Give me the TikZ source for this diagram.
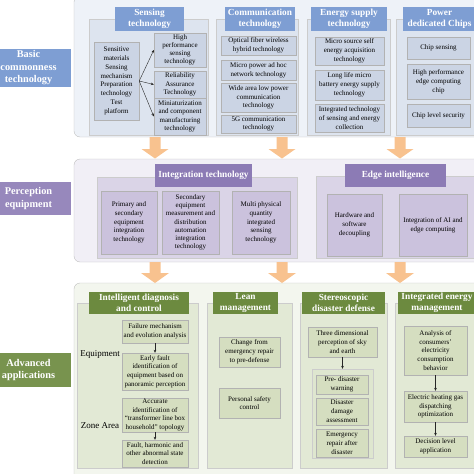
\documentclass[tikz,border=0pt]{standalone}
\usepackage{fontspec}
\setmainfont{Liberation Serif}
\usetikzlibrary{arrows.meta}

\definecolor{bandA}{HTML}{EEF2F8}
\definecolor{colA}{HTML}{DDE4EF}
\definecolor{headA}{HTML}{7E9ED3}
\definecolor{boxA}{HTML}{CBD4E4}
\definecolor{bandB}{HTML}{F1EFF6}
\definecolor{colB}{HTML}{DAD4E7}
\definecolor{headB}{HTML}{8C7BB5}
\definecolor{boxB}{HTML}{CBC2DD}
\definecolor{bandC}{HTML}{F3F6EE}
\definecolor{colC}{HTML}{E2E9D5}
\definecolor{headC}{HTML}{6C8A3F}
\definecolor{boxC}{HTML}{D5DEC0}
\definecolor{flowcol}{HTML}{F8C28F}

\begin{document}
\begin{tikzpicture}[x=1pt,y=-1pt,
  area/.style args={#1,#2,#3,#4}{minimum width={(#3-#1)*1pt},
    minimum height={(#4-#2)*1pt}, at={({(#1+#3)/2},{(#2+#4)/2})}},
  panel/.style={draw=gray!50, rounded corners=6pt, inner sep=0pt},
  col/.style={draw=gray!40, inner sep=0pt},
  head/.style={inner sep=0pt, text=white, align=center,
    font=\fontsize{9.3}{11}\selectfont\bfseries},
  side/.style={inner sep=0pt, text=white, align=center,
    font=\fontsize{10.3}{12.5}\selectfont\bfseries},
  box/.style={draw=gray!60, inner sep=0pt, align=center,
    font=\fontsize{7}{8.8}\selectfont},
  tight/.style={font=\fontsize{7}{8.2}\selectfont},
  tag/.style={inner sep=0pt, font=\fontsize{9}{10}\selectfont},
  link/.style={-{Stealth[length=3pt,width=2.6pt]}, black!85}]
\useasboundingbox (0,0) rectangle (474,474);

% basic commonness technology
\node[panel, fill=bandA, area={74,-4,482,137}] (bandA) {};
\node[side, fill=headA, area={-14,49,71,87}] (basic) {Basic\\commonness\\technology};

\node[col, fill=colA, area={89,19,208,135}] (sensing) {};
\node[head, fill=headA, area={115,7,184,31}] (sensingH) {Sensing\\technology};
\node[box, fill=boxA, area={94,42,139,120}] (sens0) {Sensitive\\materials\\Sensing\\mechanism\\Preparation\\technology\\Test\\platform};
\node[box, tight, fill=boxA, area={154,33,206,67}] (sens1) {High\\performance\\sensing\\technology};
\node[box, tight, fill=boxA, area={154,71,206,98}] (sens2) {Reliability\\Assurance\\Technology};
\node[box, tight, fill=boxA, area={154,98,206,135}] (sens3) {Miniaturization\\and component\\manufacturing\\technology};
\foreach \n in {sens1,sens2,sens3}
  \draw[link] (sens0.east) -- (\n.west);

\node[col, fill=colA, area={216,19,298,135}] (comm) {};
\node[head, fill=headA, area={225,7,295,31}] (commH) {Communication\\technology};
\node[box, fill=boxA, area={221,36,296,55}] (comm1) {Optical fiber wireless\\hybrid technology};
\node[box, fill=boxA, area={221,60,296,80}] (comm2) {Micro power ad hoc\\network technology};
\node[box, fill=boxA, area={221,83,296,112}] (comm3) {Wide area low power\\communication\\technology};
\node[box, fill=boxA, area={221,115,296,133}] (comm4) {5G communication\\technology};

\node[col, fill=colA, area={307,19,390,135}] (energy) {};
\node[head, fill=headA, area={311,7,387,31}] (energyH) {Energy supply\\technology};
\node[box, fill=boxA, area={315,37,384,65}] (energy1) {Micro source self\\energy acquisition\\technology};
\node[box, fill=boxA, area={315,70,384,100}] (energy2) {Long life micro\\battery energy supply\\technology};
\node[box, fill=boxA, area={315,104,384,132}] (energy3) {Integrated technology\\of sensing and energy\\collection};

\node[col, fill=colA, area={396,19,480,135}] (chips) {};
\node[head, fill=headA, area={403,7,476,31}] (chipsH) {Power\\dedicated Chips};
\node[box, fill=boxA, area={407,37,470,59}] (chips1) {Chip sensing};
\node[box, fill=boxA, area={407,64,470,99}] (chips2) {High performance\\edge computing\\chip};
\node[box, fill=boxA, area={407,104,470,127}] (chips3) {Chip level security};

% perception equipment
\node[panel, fill=bandB, area={74,159,482,262}] (bandB) {};
\node[side, fill=headB!90!white, area={-14,182,71,215}] (percep) {Perception\\equipment};

\node[col, fill=colB, area={97,177,297,258}] (integ) {};
\node[head, fill=headB, area={155,164,252,187}] (integH) {Integration technology};
\node[box, fill=boxB, area={101,191,157,254}] (integ1) {Primary and\\secondary\\equipment\\integration\\technology};
\node[box, tight, fill=boxB, area={162,191,219,254}] (integ2) {Secondary\\equipment\\measurement and\\distribution\\automation\\integration\\technology};
\node[box, fill=boxB, area={232,191,290,254}] (integ3) {Multi physical\\quantity\\integrated\\sensing\\technology};

\node[col, fill=colB, area={316,176,480,258}] (edge) {};
\node[head, fill=headB, area={345,164,446,187}] (edgeH) {Edge intelligence};
\node[box, fill=boxB, area={327,194,382,256}] (edge1) {Hardware and\\software\\decoupling};
\node[box, fill=boxB, area={399,194,467,256}] (edge2) {Integration of AI and\\edge computing};

% advanced applications
\node[panel, fill=bandC, area={74,283,482,480}] (bandC) {};
\node[side, fill=headC!92!white, area={-14,353,71,387}] (advan) {Advanced\\applications};

\node[col, fill=colC, area={77,303,198,468}] (diag) {};
\node[head, fill=headC, area={89,292,189,314}] (diagH) {Intelligent diagnosis\\and control};
\node[box, fill=boxC, area={122,320,188,343}] (diag1) {Failure mechanism\\and evolution analysis};
\node[box, fill=boxC, area={122,353,188,390}] (diag2) {Early fault\\identification of\\equipment based on\\panoramic perception};
\node[box, fill=boxC, area={122,398,188,432}] (diag3) {Accurate\\identification of\\``transformer line box\\household'' topology};
\node[box, fill=boxC, area={122,440,188,467}] (diag4) {Fault, harmonic and\\other abnormal state\\detection};
\node[tag] (equip) at (100,354) {Equipment};
\node[tag] (zone) at (100,426) {Zone Area};
\draw[link] (diag1) -- (diag2);
\draw[link] (diag3) -- (diag4);

\node[col, fill=colC, area={207,303,292,468}] (lean) {};
\node[head, fill=headC, area={213,292,278,314}] (leanH) {Lean\\management};
\node[box, fill=boxC, area={219,337,280,367}] (lean1) {Change from\\emergency repair\\to pre-defense};
\node[box, fill=boxC, area={219,388,280,418}] (lean2) {Personal safety\\control};

\node[col, fill=colC, area={300,303,387,468}] (stereo) {};
\node[head, fill=headC, area={302,292,385,314}] (stereoH) {Stereoscopic\\disaster defense};
\node[box, fill=boxC, area={308,327,377,357}] (stereo1) {Three dimensional\\perception of sky\\and earth};
\node[col, fill=colC!70!boxC, area={312,369,373,458}] (stereoG) {};
\node[box, fill=boxC, area={316,375,368,394}] (stereo2) {Pre- disaster\\warning};
\node[box, fill=boxC, area={316,398,368,425}] (stereo3) {Disaster\\damage\\assessment};
\node[box, fill=boxC, area={316,429,368,457}] (stereo4) {Emergency\\repair after\\disaster};
\draw[link] (stereo1) -- (stereoG);

\node[col, fill=colC, area={395,303,480,468}] (ener) {};
\node[head, fill=headC, area={398,292,476,314}] (enerH) {Integrated energy\\management};
\node[box, fill=boxC, area={404,326,467,375}] (ener1) {Analysis of\\consumers'\\electricity\\consumption\\behavior};
\node[box, fill=boxC, area={404,391,467,422}] (ener2) {Electric heating gas\\dispatching\\optimization};
\node[box, fill=boxC, area={404,436,467,457}] (ener3) {Decision level\\application};
\draw[link] (ener1) -- (ener2);
\draw[link] (ener2) -- (ener3);

% flow between the layers
\foreach \x in {155,282,400}{
  \fill[flowcol] (\x-5.5,137) -- (\x+5.5,137) -- (\x+5.5,149) -- (\x+13.5,149)
    -- (\x,158.5) -- (\x-13.5,149) -- (\x-5.5,149) -- cycle;
  \fill[flowcol] (\x-5.5,262) -- (\x+5.5,262) -- (\x+5.5,273) -- (\x+14,273)
    -- (\x,283) -- (\x-14,273) -- (\x-5.5,273) -- cycle;
}

\end{tikzpicture}
\end{document}
